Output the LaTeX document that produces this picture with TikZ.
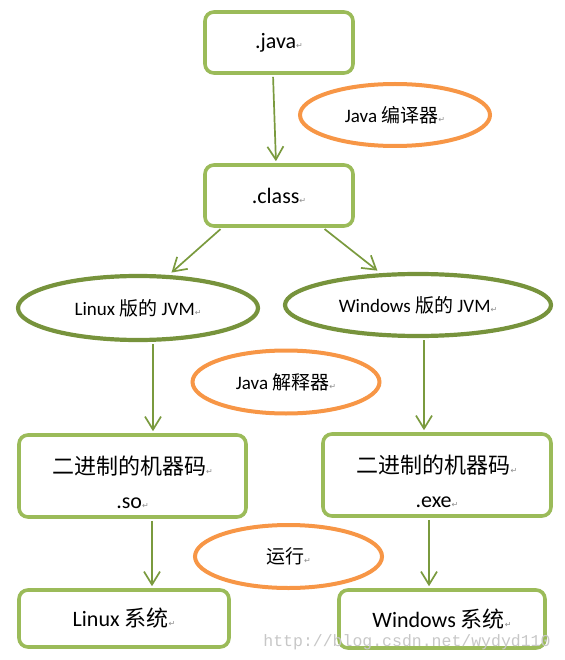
\documentclass[tikz,border=0pt]{standalone}
\usepackage{fontspec}
\setmainfont{Carlito}
\newfontfamily\cjk{Noto Sans CJK SC}
\newfontfamily\symbfont{DejaVu Sans}
\newfontfamily\urlfont{Liberation Mono}
\usetikzlibrary{shapes.geometric,arrows.meta}

\definecolor{boxgreen}{HTML}{9BBB59}
\definecolor{jvmgreen}{HTML}{77933C}
\definecolor{toolorange}{HTML}{F79646}
\definecolor{arrowgreen}{HTML}{7A9A3E}

\newcommand{\parmark}{{\color{black!45}\symbfont\fontsize{8}{8}\selectfont ↵}}
\newcommand{\lowerstrut}{\rule{0pt}{31pt}}

\tikzset{
  filebox/.style={draw=boxgreen, line width=3.6pt, rounded corners=9pt,
    align=center, inner sep=0pt, font=\fontsize{22}{34}\selectfont},
  jvm/.style={ellipse, draw=jvmgreen, line width=4.2pt, inner sep=0pt,
    font=\fontsize{19}{20}\selectfont},
  tool/.style={ellipse, draw=toolorange, line width=4pt, inner sep=0pt,
    font=\fontsize{19}{20}\selectfont},
  flow/.style={draw=arrowgreen, line width=1.7pt,
    -{Straight Barb[length=13pt,width=16pt]}, shorten >=2pt, shorten <=2pt},
  watermark/.style={text=black!22, font=\urlfont\fontsize{16.5}{18}\selectfont}
}

\begin{document}
\begin{tikzpicture}[x=1pt, y=-1pt]
\useasboundingbox (0,0) rectangle (564,660);

\node[filebox, minimum width=148, minimum height=61] at (279,42.5) (java) {.java\parmark};
\node[tool, minimum width=190, minimum height=62] at (395,115) (javac) {Java {\cjk 编译器}\parmark};
\node[filebox, minimum width=148, minimum height=61] at (279,195.5) (class) {.class\parmark};

\node[jvm, minimum width=240, minimum height=64] at (138,308) (linuxjvm) {Linux {\cjk 版的} JVM\parmark};
\node[jvm, minimum width=266, minimum height=62] at (418,305) (winjvm) {Windows {\cjk 版的} JVM\parmark};
\node[tool, minimum width=187, minimum height=63] at (286,382) (interp) {Java {\cjk 解释器}\parmark};

\node[filebox, minimum width=227, minimum height=82] at (132.5,476) (so) {\lowerstrut{\cjk 二进制的机器码}\parmark\\.so\parmark};
\node[filebox, minimum width=228, minimum height=82] at (437,475) (exe) {\lowerstrut{\cjk 二进制的机器码}\parmark\\.exe\parmark};
\node[tool, minimum width=187, minimum height=63] at (288.5,556.5) (run) {{\cjk 运行}\parmark};

\node[filebox, minimum width=210, minimum height=57] at (124,618.5) (linuxos) {Linux {\cjk 系统}\parmark};
\node[filebox, minimum width=206, minimum height=58] at (442,619) (winos) {Windows {\cjk 系统}\parmark};

% compile
\draw[flow] ([xshift=-6pt]java.south) -- ([xshift=-3pt]class.north);
% one class file, two JVMs
\draw[flow] ([xshift=-57pt]class.south) -- ([xshift=32pt]linuxjvm.north);
\draw[flow] ([xshift=44pt]class.south) -- ([xshift=-39pt]winjvm.north);
% interpret
\draw[flow] ([xshift=15pt]linuxjvm.south) -- ([xshift=20.5pt]so.north);
\draw[flow] ([xshift=6pt]winjvm.south) -- ([xshift=-13pt]exe.north);
% run
\draw[flow] ([xshift=19.5pt]so.south) -- ([xshift=28pt]linuxos.north);
\draw[flow] ([xshift=-8pt]exe.south) -- ([xshift=-13pt]winos.north);

\node[watermark] at (407,642) (url) {http://blog.csdn.net/wydyd110};
\end{tikzpicture}
\end{document}
